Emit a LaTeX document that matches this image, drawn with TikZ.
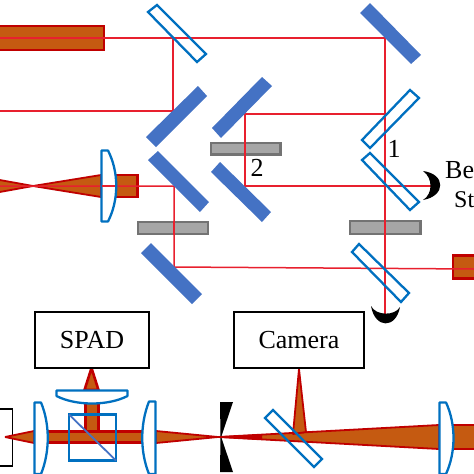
\documentclass[tikz,border=0pt]{standalone}
\usepackage{fontspec}
\setmainfont{Liberation Serif}
\definecolor{beamfill}{HTML}{C55A11}
\definecolor{beamedge}{HTML}{C00000}
\definecolor{mirrorblue}{HTML}{4472C4}
\definecolor{opticblue}{HTML}{0070C0}
\definecolor{rayred}{HTML}{E8202E}
\tikzset{
  beam/.style={fill=beamfill,draw=beamedge,line width=2.6pt,line join=miter},
  cone/.style={fill=beamfill,draw=beamedge,line width=1.8pt,line join=bevel},
  ray/.style={draw=rayred,line width=1.5pt},
  mirror/.style={fill=mirrorblue,draw=none},
  splitter/.style={draw=opticblue,line width=2.3pt,line join=miter},
  lens/.style={fill=white,draw=opticblue,line width=2.3pt,line join=round},
  filterbar/.style={fill=black!35,draw=black!55,line width=2.2pt},
  labelbox/.style={draw=black,line width=1.9pt,fill=white,inner sep=0pt,font=\fontsize{26}{26}\selectfont},
  lab/.style={font=\fontsize{26}{26}\selectfont,inner sep=0pt},
}
\begin{document}
\begin{tikzpicture}[x=1pt,y=-1pt]
\useasboundingbox (0,0) rectangle (474,474);
\begin{scope}
\clip (0,0) rectangle (474,474);
% beams upper
\draw[beam] (-5,26) rectangle (104,50);
\draw[cone] (33,186) -- (101,175) -- (101,197) -- cycle;
\draw[cone] (-3,179.5) -- (33,186) -- (-3,192.5) -- cycle;
\draw[beam] (101,175) rectangle (137.5,197);
\draw[beam] (453,255.5) rectangle (480,278.5);
% rays
\coordinate (r1) at (0,38); \coordinate (r2) at (385,38); \coordinate (r3) at (173,38);
\coordinate (r4) at (173,111); \coordinate (r5) at (0,111);
\coordinate (r6) at (245,114); \coordinate (r7) at (385,114);
\coordinate (r8) at (245,186); \coordinate (r9) at (431,186);
\coordinate (r10) at (0,186); \coordinate (r11) at (174,186); \coordinate (r12) at (174,267);
\coordinate (r13) at (474,269); \coordinate (r14) at (385,314);
\draw[ray] (r1) -- (r2) -- (r14);
\draw[ray] (r3) -- (r4) -- (r5);
\draw[ray] (r7) -- (r6) -- (r8) -- (r9);
\draw[ray] (r10) -- (r11) -- (r12) -- (r13);
% lens upper
\draw[lens] (101.5,150.5) -- (108,150.5) .. controls (119,172) and (119,200) .. (108,221.5) -- (101.5,221.5) -- cycle;
\draw[ray] (101.5,186) -- (115,186);
% mirrors
\fill[mirror] (198,86) -- (207,96) -- (156,147) -- (146,137) -- cycle;
\fill[mirror] (158,151) -- (209,202) -- (200,212) -- (148,160) -- cycle;
\fill[mirror] (262,77) -- (272,86) -- (221,138) -- (212,128) -- cycle;
\fill[mirror] (220,162) -- (271,212) -- (262,222) -- (211,172) -- cycle;
\fill[mirror] (370,3) -- (421,55) -- (411,64) -- (360,13) -- cycle;
\fill[mirror] (151,243) -- (202,294) -- (192,304) -- (141,253) -- cycle;
% splitters
\draw[splitter] (157,5) -- (206,54) -- (197,62) -- (148,12) -- cycle;
\draw[splitter] (410,90) -- (419,98) -- (370,148) -- (362,140) -- cycle;
\draw[splitter] (370,153) -- (419,202) -- (410,210) -- (362,160) -- cycle;
\draw[splitter] (359,244) -- (409,293) -- (401,302) -- (352,252) -- cycle;
% grey
\draw[filterbar] (138,222) rectangle (208,234);
\draw[filterbar] (211,143) rectangle (280.5,154.5);
\draw[filterbar] (350,221) rectangle (420.5,234);
\draw[ray] (174,221) -- (174,235);
\draw[ray] (245,142) -- (245,155.5);
\draw[ray] (385,220) -- (385,235);
% beam stops
\fill[black] (423,171) .. controls (446,174) and (446,196) .. (423,200) .. controls (433,194) and (433,178) .. (423,171) -- cycle;
\fill[black] (371,306) .. controls (376,316) and (395,316) .. (400,307) .. controls (396,329) and (375,329) .. (371,306) -- cycle;
% labels
\node[lab] (one) at (394,149) {1};
\node[lab] (two) at (257,168) {2};
\node[lab,anchor=west] (be) at (445,170) {Be};
\node[lab,anchor=west,font=\fontsize{24}{24}\selectfont] (st) at (454,200) {St};
% lower beams
\draw[beam] (85.5,437) -- (85.5,403) -- (98.5,403) -- (98.5,437) -- cycle;
\draw[beam] (84.5,390) -- (91.5,368) -- (98.5,390) -- cycle;
\draw[cone] (156,431) -- (218,437) -- (156,443) -- cycle;
\draw[beam] (34,431.5) rectangle (156,442.5);
\draw[cone] (218,437) -- (439,425) -- (439,449) -- cycle;
\draw[beam] (439,425) rectangle (480,449);
\draw[cone] (293,434) -- (299,369) -- (306,432) -- cycle;
\fill[beamedge] (208,437) -- (262,434) -- (262,440) -- cycle;
% boxes
\node[labelbox,minimum width=114pt,minimum height=56pt] (spad) at (92,340) {SPAD};
\node[labelbox,minimum width=130pt,minimum height=56pt] (camera) at (299,340) {Camera};
\draw[draw=black,line width=1.9pt,fill=none] (-5,409) -- (12.5,409) -- (12.5,466) -- (-5,466);
\draw[cone] (5,437) -- (34,431) -- (34,443) -- cycle;
% lower optics
\draw[lens] (56.5,390.5) -- (127.5,390.5) -- (127.5,396) .. controls (108,406) and (76,406) .. (56.5,396) -- cycle;
\draw[lens] (34.5,402.5) -- (41,402.5) .. controls (50,424) and (50,452) .. (41,474) -- (34.5,474) -- cycle;
\draw[lens] (155.5,401.5) -- (149,401.5) .. controls (140,424) and (140,452) .. (149,474) -- (155.5,474) -- cycle;
\draw[lens] (439.5,402.5) -- (446,402.5) .. controls (456,424) and (456,452) .. (446,474) -- (439.5,474) -- cycle;
\draw[opticblue,line width=2.3pt] (69,414.5) rectangle (116,460.5);
\draw[mirrorblue,line width=1.8pt] (69,414.5) -- (116,460.5);
\draw[splitter] (273,410) -- (322,459) -- (314,467) -- (265,418) -- cycle;
% iris
\fill[black] (220,402) -- (233,402) -- (221.5,436) -- (220.5,436) -- cycle;
\fill[black] (220,472) -- (233,472) -- (221.5,438) -- (220.5,438) -- cycle;
\end{scope}
\end{tikzpicture}
\end{document}
